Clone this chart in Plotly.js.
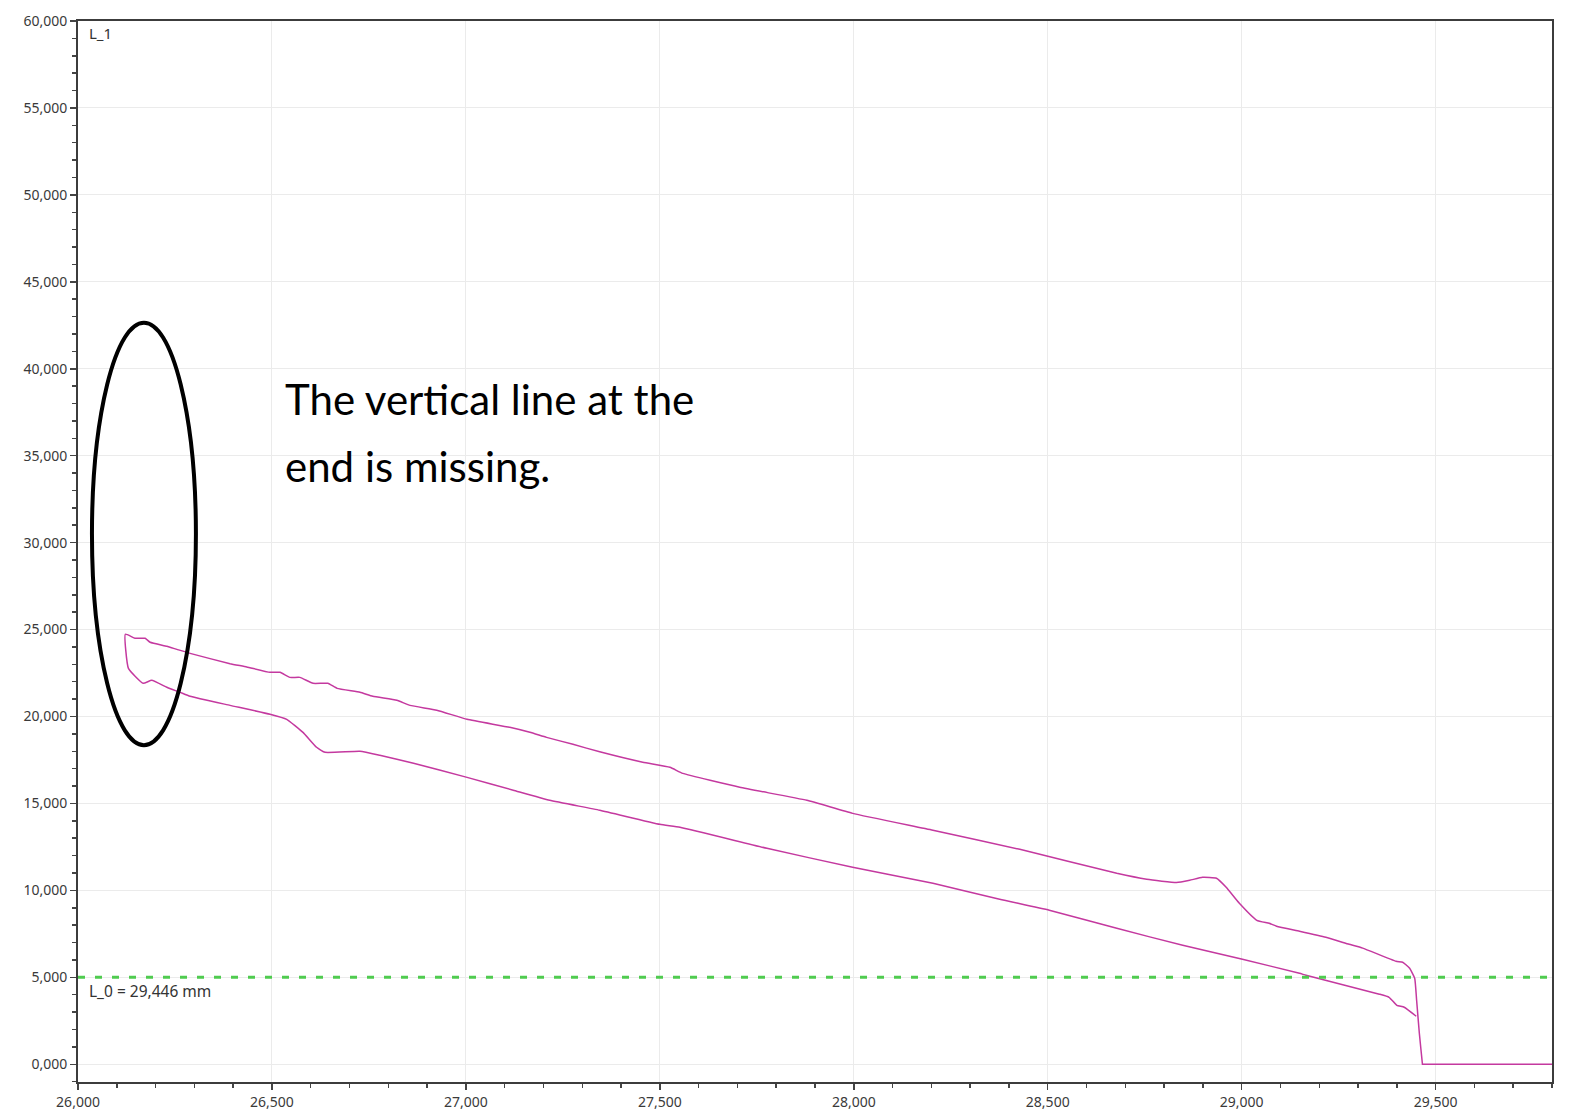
<!DOCTYPE html>
<html>
<head>
<meta charset="utf-8">
<script src="https://cdn.plot.ly/plotly-3.0.1.min.js"></script>
<style>
  html, body { margin: 0; padding: 0; background: #ffffff; }
  #chart { width: 1580px; height: 1113px; }
</style>
</head>
<body>
<div id="chart"></div>
<script>
// Upper branch (left to right)
const upperX = [26.122, 26.147, 26.173, 26.186, 26.229, 26.255, 26.289, 26.392, 26.435, 26.495,
  26.521, 26.546, 26.572, 26.606, 26.644, 26.668, 26.727, 26.760, 26.822, 26.856,
  26.925, 27.003, 27.113, 27.165, 27.208, 27.276, 27.345, 27.456, 27.526, 27.559,
  27.706, 27.879, 27.997, 28.204, 28.428, 28.678, 28.755, 28.832, 28.866, 28.899,
  28.935, 28.960, 28.994, 29.039, 29.071, 29.090, 29.149, 29.217, 29.277, 29.312,
  29.398, 29.415, 29.433, 29.446, 29.451, 29.458, 29.466];
const upperY = [24.73, 24.50, 24.50, 24.27, 24.04, 23.86, 23.63, 23.04, 22.85, 22.54,
  22.54, 22.25, 22.25, 21.91, 21.91, 21.62, 21.39, 21.16, 20.93, 20.64,
  20.36, 19.84, 19.38, 19.09, 18.80, 18.40, 17.97, 17.37, 17.08, 16.73,
  15.93, 15.18, 14.43, 13.46, 12.36, 10.98, 10.64, 10.45, 10.58, 10.75,
  10.70, 10.18, 9.26, 8.28, 8.11, 7.94, 7.65, 7.30, 6.90, 6.68,
  5.92, 5.87, 5.52, 4.95, 3.68, 1.78, 0.00];

// Lower branch (left to right)
const lowerX = [26.130, 26.168, 26.190, 26.229, 26.263, 26.289, 26.392, 26.495, 26.538, 26.580,
  26.615, 26.637, 26.727, 26.778, 26.865, 27.003, 27.122, 27.216, 27.345, 27.500,
  27.552, 27.776, 27.997, 28.204, 28.376, 28.504, 28.678, 28.848, 29.002, 29.149,
  29.166, 29.355, 29.380, 29.400, 29.419, 29.450];
const lowerY = [22.77, 21.91, 22.08, 21.68, 21.39, 21.16, 20.64, 20.13, 19.84, 19.09,
  18.23, 17.94, 18.00, 17.77, 17.31, 16.50, 15.76, 15.18, 14.61, 13.80,
  13.63, 12.42, 11.33, 10.41, 9.49, 8.86, 7.82, 6.84, 6.04, 5.23,
  5.12, 4.03, 3.85, 3.39, 3.28, 2.76];

// Tail at zero after the drop
const tailX = [29.466, 29.80];
const tailY = [0.00, 0.00];

// Reference level line
const levelY = 5.0;
const levelLabel = "L_0 = 29,446 mm";
const topLabel = "L_1";
const noteLine1 = "The vertical line at the";
const noteLine2 = "end is missing.";

const pathX = lowerX.slice().reverse().concat(upperX, tailX);
const pathY = lowerY.slice().reverse().concat(upperY, tailY);

const curve = {
  x: pathX, y: pathY,
  type: 'scatter', mode: 'lines',
  line: { color: '#c4399f', width: 1.5, shape: 'spline', smoothing: 0.4 },
  hoverinfo: 'skip', showlegend: false
};

const axisCommon = {
  showline: true, linecolor: '#3c3c3c', linewidth: 2, mirror: true,
  ticks: 'outside', ticklen: 6, tickwidth: 1.5, tickcolor: '#444444',
  showgrid: true, gridcolor: '#ebebeb', gridwidth: 1,
  zeroline: false,
  tickfont: { family: 'Noto Sans, Open Sans, sans-serif', size: 14, color: '#3a3a3a' },
  tickformat: '.3f'
};

const layout = {
  width: 1580, height: 1113,
  margin: { l: 78, r: 28, t: 21, b: 31, pad: 0 },
  paper_bgcolor: '#ffffff', plot_bgcolor: '#ffffff',
  separators: ',.',
  showlegend: false,
  xaxis: Object.assign({}, axisCommon, {
    range: [26.0, 29.8], dtick: 0.5, tick0: 26.0,
    minor: { dtick: 0.1, ticks: 'outside', ticklen: 4, tickcolor: '#444444', showgrid: false }
  }),
  yaxis: Object.assign({}, axisCommon, {
    range: [-1.02, 60], dtick: 5, tick0: 0,
    minor: { dtick: 1, ticks: 'outside', ticklen: 4, tickcolor: '#444444', showgrid: false }
  }),
  shapes: [
    { type: 'line', xref: 'paper', x0: 0, x1: 1, yref: 'y', y0: levelY, y1: levelY,
      line: { color: '#4fcb4f', width: 3, dash: '7px,10px' }, layer: 'above' },
    { type: 'circle', xref: 'x', yref: 'y', x0: 26.036, x1: 26.304, y0: 18.35, y1: 42.65,
      line: { color: '#000000', width: 4 }, layer: 'above' }
  ],
  annotations: [
    { text: topLabel, xref: 'paper', yref: 'paper', x: 0.006, y: 1.0,
      xanchor: 'left', yanchor: 'top', showarrow: false,
      font: { family: 'Noto Sans, Open Sans, sans-serif', size: 15, color: '#333333' } },
    { text: levelLabel, xref: 'paper', yref: 'y', x: 0.006, y: 4.95,
      xanchor: 'left', yanchor: 'top', showarrow: false,
      font: { family: 'Noto Sans, Open Sans, sans-serif', size: 15.5, color: '#333333' } },
    { text: noteLine1, xref: 'paper', yref: 'paper', x: 0.139, y: 0.644,
      xanchor: 'left', yanchor: 'middle', showarrow: false,
      font: { family: 'Lato, Open Sans, sans-serif', size: 42, color: '#000000' } },
    { text: noteLine2, xref: 'paper', yref: 'paper', x: 0.139, y: 0.581,
      xanchor: 'left', yanchor: 'middle', showarrow: false,
      font: { family: 'Lato, Open Sans, sans-serif', size: 42, color: '#000000' } }
  ]
};

Plotly.newPlot('chart', [curve], layout, { displayModeBar: false, staticPlot: true });
</script>
</body>
</html>
